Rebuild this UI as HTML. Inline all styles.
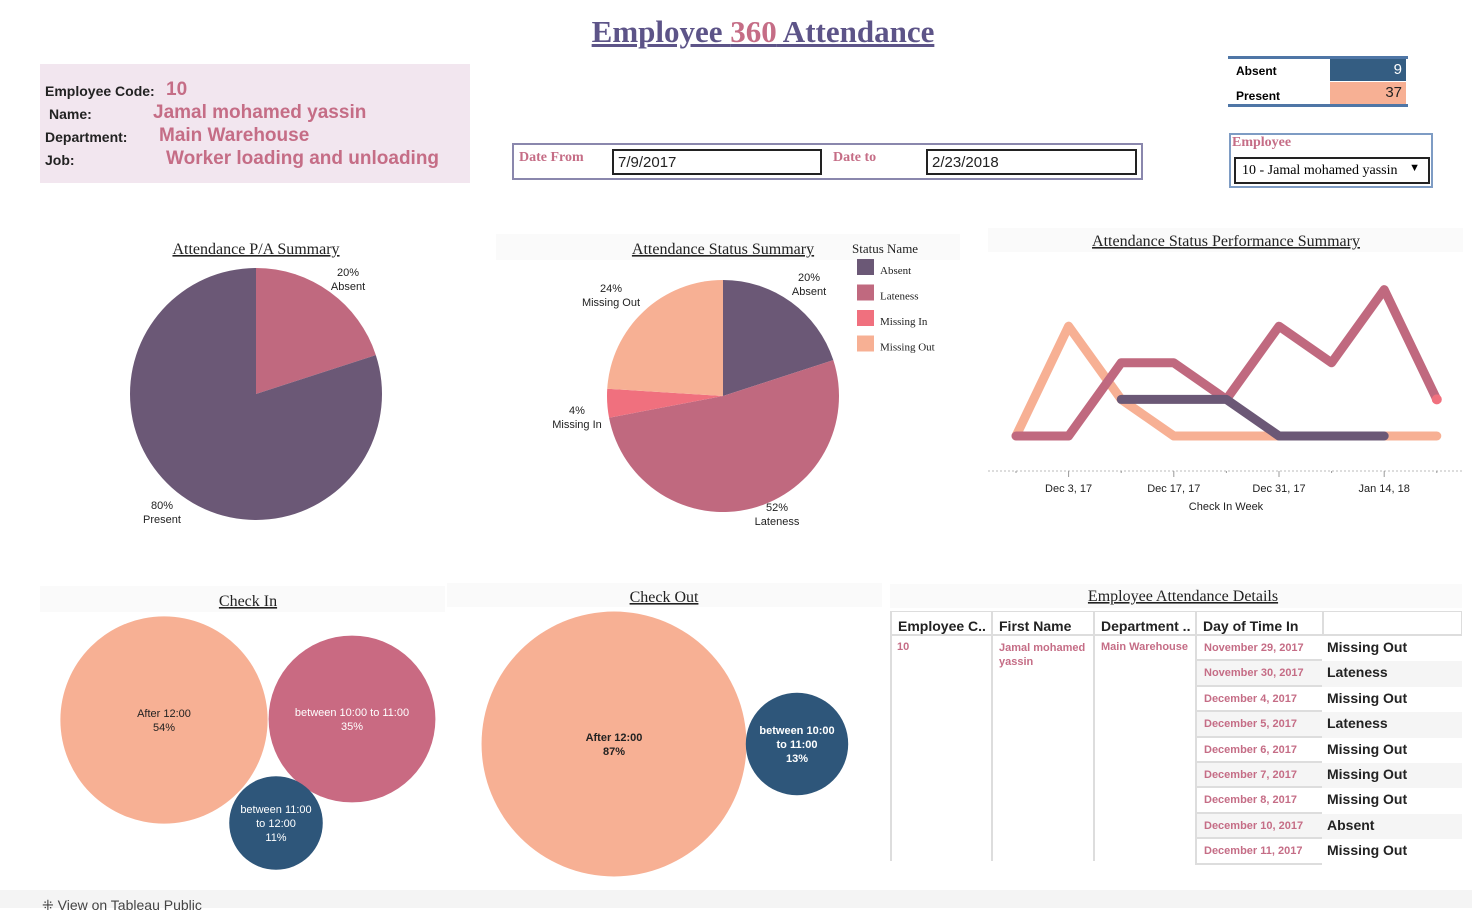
<!DOCTYPE html>
<html><head><meta charset="utf-8">
<style>
*{box-sizing:border-box;margin:0;padding:0}
body{width:1472px;height:908px;overflow:hidden;background:#fff;font-family:"Liberation Sans",sans-serif;position:relative}
.abs{position:absolute}
.ser{font-family:"Liberation Serif",serif}
.lbl{font-weight:bold;font-size:14px;color:#222;position:absolute}
.val{font-weight:bold;font-size:19px;color:#c56d86;position:absolute}
.c{position:absolute;white-space:nowrap;overflow:hidden}
</style></head><body>
<div class="abs ser" style="left:0;width:1526px;top:14px;text-align:center;font-size:31px;font-weight:bold;color:#5d5488;text-decoration:underline">Employee <span style="color:#c56d86">360</span> Attendance</div>

<div class="abs" style="left:40px;top:64px;width:430px;height:119px;background:#f2e6ef">
<div class="lbl" style="left:5px;top:19px">Employee Code:</div><div class="val" style="left:126px;top:15px">10</div>
<div class="lbl" style="left:9px;top:42px">Name:</div><div class="val" style="left:113px;top:38px">Jamal mohamed yassin</div>
<div class="lbl" style="left:5px;top:65px">Department:</div><div class="val" style="left:119px;top:61px">Main Warehouse</div>
<div class="lbl" style="left:5px;top:88px">Job:</div><div class="val" style="left:126px;top:84px">Worker loading and unloading</div>
</div>

<div class="abs" style="left:512px;top:143px;width:631px;height:37px;border:2px solid #8a87ad">
<div class="abs ser" style="left:5px;top:5px;font-size:14px;font-weight:bold;color:#c56d86">Date From</div>
<div class="abs" style="left:98px;top:4px;width:210px;height:26px;border:2px solid #222;font-size:15px;padding:3px 4px;color:#222">7/9/2017</div>
<div class="abs ser" style="left:319px;top:5px;font-size:14px;font-weight:bold;color:#c56d86">Date to</div>
<div class="abs" style="left:412px;top:4px;width:211px;height:26px;border:2px solid #222;font-size:15px;padding:3px 4px;color:#222">2/23/2018</div>
</div>

<div class="abs" style="left:1228px;top:56px;width:180px;height:51px;border-top:3px solid #4f76a6;border-bottom:3px solid #4f76a6">
<div class="abs" style="left:8px;top:5px;font-size:12px;font-weight:bold">Absent</div>
<div class="abs" style="left:102px;top:0;width:76px;height:22px;background:#345d82;color:#fff;text-align:right;padding:2px 4px;font-size:15px">9</div>
<div class="abs" style="left:8px;top:30px;font-size:12px;font-weight:bold">Present</div>
<div class="abs" style="left:102px;top:23px;width:76px;height:22px;background:#f7b094;color:#222;text-align:right;padding:2px 4px;font-size:15px">37</div>
</div>

<div class="abs" style="left:1229px;top:133px;width:204px;height:55px;border:2px solid #7e9cc4">
<div class="abs ser" style="left:1px;top:0;font-size:14px;font-weight:bold;color:#c56d86">Employee</div>
<div class="abs ser" style="left:3px;top:22px;width:196px;height:27px;border:2px solid #222;font-size:14px;padding:4px 6px">10 - Jamal mohamed yassin<span style="position:absolute;right:8px;top:3px;font-size:11px">▼</span></div>
</div>

<svg class="abs" style="left:0;top:0" width="1472" height="908" id="charts">
<rect x="40" y="586" width="405" height="26" fill="#fafafa"/>
<rect x="447" y="583" width="435" height="24" fill="#fafafa"/>
<rect x="496" y="234" width="464" height="26" fill="#fafafa"/>
<rect x="988" y="228" width="475" height="24" fill="#fafafa"/>
<rect x="890" y="584" width="572" height="24" fill="#fafafa"/>
<g font-family="Liberation Serif" font-size="16" fill="#222" text-anchor="middle" text-decoration="underline">
<text x="256" y="254">Attendance P/A Summary</text>
<text x="723" y="254">Attendance Status Summary</text>
<text x="1226" y="246">Attendance Status Performance Summary</text>
<text x="248" y="606">Check In</text>
<text x="664" y="602">Check Out</text>
<text x="1183" y="601">Employee Attendance Details</text>
</g>
<g id="pie1"></g><g id="pie2"></g><g id="legend"></g><g id="line"></g><g id="bub"></g>
</svg>

<div class="abs" id="tbl" style="left:890px;top:611px;width:574px;height:250px"></div>

<div class="abs" style="left:0;top:890px;width:1472px;height:18px;background:#f4f4f4;font-size:14px;color:#444">
<span style="position:absolute;left:42px;top:7px">⁜ View on Tableau Public</span>
</div>

<script>
const NS="http://www.w3.org/2000/svg";
function mk(tag,attrs,parent,txt){const e=document.createElementNS(NS,tag);for(const k in attrs)e.setAttribute(k,attrs[k]);if(txt!==undefined)e.textContent=txt;parent.appendChild(e);return e;}
const colors={Absent:"#6b5876",Lateness:"#c0697f","Missing In":"#f0707e","Missing Out":"#f7b094",Present:"#6b5876"};

const paLabels=["Absent","Present"];
const paValues=[20,80];
const stLabels=["Absent","Lateness","Missing In","Missing Out"];
const stValues=[20,52,4,24];
function pie(g,cx,cy,r,labels,vals,cols,lblPos){
  const tot=vals.reduce((a,b)=>a+b,0);let a0=-Math.PI/2;
  labels.forEach((l,i)=>{const a1=a0+vals[i]/tot*2*Math.PI;
    const p=mk("path",{d:`M${cx},${cy}L${cx+r*Math.cos(a0)},${cy+r*Math.sin(a0)}A${r},${r} 0 ${a1-a0>Math.PI?1:0} 1 ${cx+r*Math.cos(a1)},${cy+r*Math.sin(a1)}Z`,fill:cols[i]},g);
    
    
    const [lx,ly]=lblPos[i];
    mk("text",{x:lx,y:ly,"font-size":11,"text-anchor":"middle",fill:"#222"},g,Math.round(vals[i]/tot*100)+"%");
    mk("text",{x:lx,y:ly+14,"font-size":11,"text-anchor":"middle",fill:"#222"},g,l);
    a0=a1;});
}
pie(document.getElementById("pie1"),256,394,126,paLabels,paValues,["#c0697f","#6b5876"],[[348,276],[162,509]]);
pie(document.getElementById("pie2"),723,396,116,stLabels,stValues,stLabels.map(l=>colors[l]),[[809,281],[777,511],[577,414],[611,292]]);
const lg=document.getElementById("legend");
mk("text",{x:852,y:253,"font-family":"Liberation Serif","font-size":13,fill:"#222"},lg,"Status Name");
stLabels.forEach((l,i)=>{const r=mk("rect",{x:857,y:259+i*25.5,width:17,height:16,fill:colors[l]},lg);
 
 
 mk("text",{x:880,y:274+i*25.5,"font-family":"Liberation Serif","font-size":11,fill:"#222"},lg,l);});

const weeks=["Nov 26","Dec 3, 17","Dec 10","Dec 17, 17","Dec 24","Dec 31, 17","Jan 7","Jan 14, 18","Jan 21"];
const tickWeeks=[1,3,5,7];
const lateness=[1,1,3,3,2,4,3,5,2];
const missingOut=[1,4,2,1,1,1,1,1,1];
const absent=[null,null,2,2,2,1,1,1,null];
const missingIn=[null,null,null,null,null,null,null,null,2];
const xs=i=>1016+i*52.6, ys=v=>436-(v-1)*36.6;
const lgp=document.getElementById("line");
mk("line",{x1:988,x2:1463,y1:471,y2:471,stroke:"#bbb","stroke-dasharray":"2,2"},lgp);
weeks.forEach((w,i)=>{mk("line",{x1:xs(i),x2:xs(i),y1:471,y2:tickWeeks.includes(i)?477:473,stroke:"#999"},lgp);});
tickWeeks.forEach(i=>mk("text",{x:xs(i),y:492,"font-size":11,"text-anchor":"middle",fill:"#222"},lgp,weeks[i]));
mk("text",{x:1226,y:510,"font-size":11,"text-anchor":"middle",fill:"#222"},lgp,"Check In Week");
function series(vals,col,name){let d="";vals.forEach((v,i)=>{if(v!=null)d+=(d?"L":"M")+xs(i)+","+ys(v);});
 const p=mk("path",{d,fill:"none",stroke:col,"stroke-width":9,"stroke-linecap":"round","stroke-linejoin":"round"},lgp);
 
 }
series(missingOut,colors["Missing Out"],'missing-out-line');
series(lateness,colors.Lateness,'lateness-line');
series(absent,colors.Absent,'absent-line');
missingIn.forEach((v,i)=>{if(v!=null){const c=mk("circle",{cx:xs(i),cy:ys(v),r:5,fill:colors["Missing In"]},lgp);
 
 }});

const ciLabels=["After 12:00","between 10:00 to 11:00","between 11:00 to 12:00"];
const ciValues=[54,35,11];
const coLabels=["After 12:00","between 10:00 to 11:00"];
const coValues=[87,13];
const bg=document.getElementById("bub");
function bubbles(labels,vals,centers,cols,k,bold,wrapW){
 labels.forEach((l,i)=>{const r=Math.sqrt(vals[i])*k;const [cx,cy]=centers[i];
  const c=mk("circle",{cx,cy,r,fill:cols[i]},bg);
  
  
  const lines=(wrapW[i]?wrapW[i]:[l]).concat([vals[i]+"%"]);
  const fc=cols[i]=="#f7b094"?"#222":"#fff";
  lines.forEach((t,j)=>mk("text",{x:cx,y:cy-(lines.length-1)*7+4+j*14,"font-size":11,"text-anchor":"middle",fill:fc,"font-weight":bold?"bold":"normal"},bg,t));});
}
bubbles(ciLabels,ciValues,[[164,720],[352,719],[276,823]],["#f7b094","#c96a82","#2e567a"],14.1,false,[null,null,["between 11:00","to 12:00"]]);
bubbles(coLabels,coValues,[[614,744],[797,744]],["#f7b094","#2e567a"],14.2,true,[null,["between 10:00","to 11:00"]]);

const dates=["November 29, 2017","November 30, 2017","December 4, 2017","December 5, 2017","December 6, 2017","December 7, 2017","December 8, 2017","December 10, 2017","December 11, 2017"];
const statuses=["Missing Out","Lateness","Missing Out","Lateness","Missing Out","Missing Out","Missing Out","Absent","Missing Out"];
const tbl=document.getElementById("tbl");
const cx=[0,101,203,305,432,572];
let h="";
["Employee C..","First Name","Department ..","Day of Time In",""].forEach((t,i)=>{
 h+=`<div class="c" style="left:${cx[i]}px;top:0;width:${cx[i+1]-cx[i]}px;height:25px;border-top:1px solid #ddd;border-left:2px solid #ddd;border-bottom:2px solid #ddd;${i==4?'border-right:1px solid #ddd;':''}font-size:14px;font-weight:bold;color:#222;padding:6px 6px 0">${t}</div>`;
});
for(let i=0;i<3;i++){h+=`<div class="c" style="left:${cx[i]}px;top:25px;width:${cx[i+1]-cx[i]}px;height:225px;border-left:2px solid #ddd;"></div>`;}
h+=`<div class="c" style="left:7px;top:30px;font-size:11px;font-weight:bold;color:#c56d86">10</div>`;
h+=`<div class="c" style="left:109px;top:30px;font-size:11px;font-weight:bold;color:#c56d86;line-height:14px">Jamal mohamed<br>yassin</div>`;
h+=`<div class="c" style="left:211px;top:30px;font-size:11px;font-weight:bold;color:#c56d86">Main Warehouse</div>`;
dates.forEach((d,i)=>{
 const bgc=i%2?"#f5f5f5":"#fff";const top=25+i*25.4;
 h+=`<div class="c" style="left:305px;top:${top}px;width:127px;height:25.4px;border-left:2px solid #ddd;border-bottom:2px solid #ddd;background:${bgc};padding:6px 7px 0;font-size:11px;font-weight:bold;color:#c56d86">${d}</div>`;
 h+=`<div class="c" style="left:432px;top:${top}px;width:140px;height:25.4px;background:${bgc};padding:3px 5px 0;font-size:14px;font-weight:bold;color:#222">${statuses[i]}</div>`;
});
tbl.innerHTML=h;
</script>
</body></html>
